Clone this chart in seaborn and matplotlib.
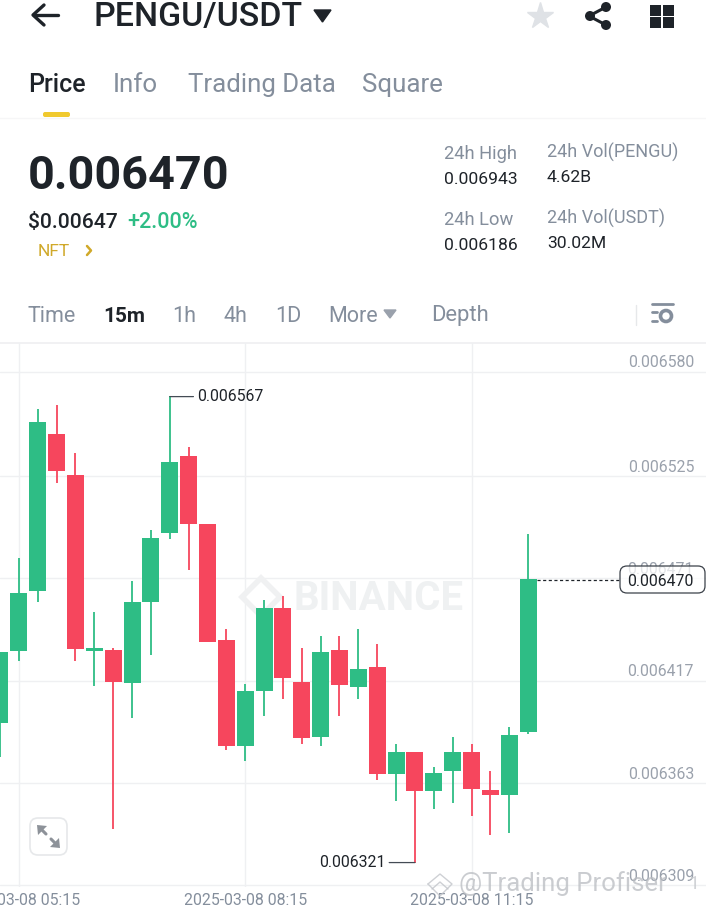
"""PENGU/USDT 15m candles, trading app screen."""
import matplotlib
matplotlib.use("Agg")
import matplotlib.pyplot as plt
import pandas as pd
import seaborn as sns
from matplotlib.patches import Circle, FancyBboxPatch, Polygon, Rectangle
from matplotlib.transforms import ScaledTranslation

# candle values, 15m bars, left to right
opens = [0.0063948, 0.0064327, 0.0064645, 0.0065474, 0.0065256, 0.0064325, 0.0064332, 0.0064156,
         0.0064587, 0.0064948, 0.0065355, 0.0064996, 0.0064385, 0.0063825, 0.0064117, 0.0064554,
         0.0064165, 0.0063874, 0.0064334, 0.0064137, 0.0064244, 0.0063676, 0.0063794, 0.0063586,
         0.0063695, 0.0063794, 0.0063593, 0.0063565, 0.0063898]
closes = [0.0064323, 0.0064635, 0.0065534, 0.0065276, 0.0064336, 0.0064343, 0.0064165, 0.0064584,
          0.0064924, 0.0065323, 0.0064997, 0.0064376, 0.0063825, 0.0064114, 0.0064554, 0.0064184,
          0.0063866, 0.0064323, 0.0064146, 0.0064233, 0.0063676, 0.0063794, 0.0063586, 0.0063683,
          0.0063794, 0.0063597, 0.0063565, 0.0063883, 0.0064705]
highs = [0.0064323, 0.0064818, 0.0065605, 0.0065624, 0.0065374, 0.0064534, 0.0064341, 0.0064695,
         0.0064966, 0.0065673, 0.0065406, 0.0064996, 0.0064443, 0.0064153, 0.0064596, 0.0064617,
         0.0064343, 0.0064404, 0.0064404, 0.0064443, 0.0064364, 0.0063834, 0.0063794, 0.0063714,
         0.0063873, 0.0063834, 0.0063695, 0.0063924, 0.0064945]
lows = [0.0063769, 0.0064276, 0.0064587, 0.0065215, 0.0064276, 0.0064144, 0.0063385, 0.0063975,
        0.0064306, 0.0064917, 0.0064755, 0.0064376, 0.0063806, 0.0063744, 0.0063984, 0.0064073,
        0.0063836, 0.0063825, 0.0063984, 0.0064075, 0.0063646, 0.0063535, 0.0063210, 0.0063494,
        0.0063524, 0.0063456, 0.0063355, 0.0063366, 0.0063891]

price_ticks = [0.006580, 0.006525, 0.006471, 0.006417, 0.006363, 0.006309]
time_ticks = [1, 13, 25]
time_labels = ["2025-03-08 05:15", "2025-03-08 08:15", "2025-03-08 11:15"]
max_price, min_price, last_price = 0.006567, 0.006321, 0.006470

GREEN = "#2ebd85"
RED = "#f6465d"
INK = "#1e2329"
GREY = "#848e9c"
LINE = "#eff0f2"
AXIS_SIZE = 11.4

sns.set_theme(style="white")
plt.rcParams["font.family"] = ["Roboto", "DejaVu Sans"]

df = pd.DataFrame({"pos": range(len(opens)), "open": opens, "close": closes, "high": highs, "low": lows})
df["bottom"] = df[["open", "close"]].min(axis=1)
df["body"] = (df["open"] - df["close"]).abs()
df["up"] = df["close"] >= df["open"]

fig = plt.figure(figsize=(7.06, 9.06), dpi=100, facecolor="white")
ax = fig.add_axes([0, (906 - 887) / 906, 1, (887 - 343) / 906])

for up, color in [(True, GREEN), (False, RED)]:
    sub = df[df["up"] == up]
    ax.vlines(sub["pos"], sub["low"], sub["high"], color=color, lw=1.3, zorder=3)
    sns.barplot(data=sub, x="pos", y="body", bottom=sub["bottom"].to_numpy(), native_scale=True,
                color=color, width=0.9, errorbar=None, saturation=1, linewidth=0, ax=ax, zorder=4)

ax.set_xlim(0, 706 / 18.86)
ax.set_ylim(0.0063081, 0.0065953)
ax.set_xlabel("")
ax.set_ylabel("")
ax.set_xticks(time_ticks, time_labels)
ax.set_yticks(price_ticks, [f"{p:.6f}" for p in price_ticks])
ax.grid(True, color=LINE, lw=1)
ax.set_axisbelow(True)
ax.tick_params(axis="x", length=0, pad=4, labelsize=AXIS_SIZE, labelcolor=GREY)
ax.tick_params(axis="y", length=0, left=False, labelleft=False, labelright=True, pad=-8.6,
               labelsize=AXIS_SIZE, labelcolor="#9aa1ac")
shift = ScaledTranslation(0, 9 / 100, fig.dpi_scale_trans)
for lab in ax.get_yticklabels():
    lab.set_ha("right")
    lab.set_va("center")
    lab.set_transform(lab.get_transform() + shift)
for name, spine in ax.spines.items():
    spine.set_visible(name == "top")
    spine.set_color(LINE)

# high / low / last markers
ax.annotate(f"{max_price:.6f}", xy=(9, max_price), xytext=(27, 0), textcoords="offset pixels", va="center",
            fontsize=AXIS_SIZE, color=INK, arrowprops=dict(arrowstyle="-", color="#444b55", lw=0.9, shrinkA=0, shrinkB=0))
ax.annotate(f"{min_price:.6f}", xy=(22, min_price), xytext=(-29, 0), textcoords="offset pixels", va="center",
            ha="right", fontsize=AXIS_SIZE, color=INK,
            arrowprops=dict(arrowstyle="-", color="#444b55", lw=0.9, shrinkA=0, shrinkB=0))
ax.hlines(last_price, 28.45, 32.9, color=INK, lw=0.9, ls=(0, (2.5, 2)), zorder=2)

# everything else on the screen sits on a pixel overlay
ui = fig.add_axes([0, 0, 1, 1], facecolor="none")
ui.set_xlim(0, 706)
ui.set_ylim(906, 0)
ui.axis("off")

# BINANCE watermark goes under the candles
ax.text(294, 599, "BINANCE", transform=ui.transData, fontsize=29, color="#eff1f2", fontweight="bold",
        va="center", zorder=1)
ax.add_patch(Polygon([(261, 578), (280, 597), (261, 616), (242, 597)], closed=True, fc="none", ec="#f0f1f2", lw=4,
                     transform=ui.transData, zorder=1))


def label(x, y, s, size=13.2, color=GREY, weight="normal", ha="left", **kw):
    ui.text(x, y + 1, s, fontsize=size, color=color, fontweight=weight, ha=ha, va="center", **kw)


# last price pill, the tick label behind it shows through
ui.add_patch(FancyBboxPatch((620, 566), 85, 27, boxstyle="round,pad=0,rounding_size=7", fc=(1, 1, 1, 0.72),
                            ec="#3b4149", lw=0.9, zorder=5))
label(694, 581, f"{last_price:.6f}", size=AXIS_SIZE, color=INK, ha="right", zorder=6)

# corner watermark
label(459, 883, "@Trading Profiser", size=18.5, color="#b9bcc1", alpha=0.75, zorder=6)
label(688, 883, "1", size=14, color="#c6c9cd", alpha=0.8, zorder=6)
ui.plot([428, 440, 452, 440, 428], [884, 874, 884, 896, 884], color="#c2c5ca", lw=1, alpha=0.8, zorder=6)
ui.plot([432, 440, 448], [889, 882, 889], color="#c2c5ca", lw=1, alpha=0.8, zorder=6)

# expand button
ui.add_patch(FancyBboxPatch((30, 818), 37, 37, boxstyle="round,pad=0,rounding_size=8", fc="white", ec="#e6e8ea", lw=1.2, zorder=5))
ui.add_patch(Polygon([(37, 825), (47, 826), (38, 835)], closed=True, fc="#8d9299", ec="none", zorder=6))
ui.add_patch(Polygon([(60, 848), (50, 847), (59, 838)], closed=True, fc="#8d9299", ec="none", zorder=6))
ui.plot([40, 46], [828, 834], color="#8d9299", lw=2.2, zorder=6)
ui.plot([57, 51], [845, 839], color="#8d9299", lw=2.2, zorder=6)

# top bar
ui.plot([34, 58], [15, 15], color=INK, lw=2.4)
ui.plot([44, 33, 44], [5, 15, 25], color=INK, lw=2.4)
label(93, 16, "PENGU/USDT", size=24.4, color=INK, weight="medium")
ui.add_patch(Polygon([(314, 10), (331, 10), (322.5, 22)], closed=True, fc=INK, ec=INK))
ui.plot([540], [16], marker="*", ms=20, color="#dfe2e6", mec="#dfe2e6")
for a, b in [((589, 16), (606, 7)), ((589, 16), (606, 25))]:
    ui.plot(*zip(a, b), color=INK, lw=2.2)
for xy, r in [((590, 16), 5), ((606, 7), 5), ((606, 25), 5)]:
    ui.add_patch(Circle(xy, r, fc=INK, ec="none"))
for x, y in [(650, 5), (663, 5), (650, 17), (663, 17)]:
    ui.add_patch(Rectangle((x, y), 10.5, 10.5, fc=INK, ec="none"))

# tabs
label(28, 84, "Price", size=18, color=INK, weight="medium")
label(113, 84, "Info", size=18.6)
label(188, 84, "Trading Data", size=18.6)
label(362, 84, "Square", size=18.6)
ui.add_patch(FancyBboxPatch((43, 112), 27, 5, boxstyle="round,pad=0,rounding_size=2", fc="#f0c92e", ec="none"))
ui.plot([0, 706], [118, 118], color="#f6f6f7", lw=1)

# price block
label(28, 175, "0.006470", size=33.7, color=INK, weight="bold")
label(28, 221, "$0.00647", size=15.2, color=INK, weight="medium")
label(127, 221, "+2.00%", size=15.5, color=GREEN, weight="medium")
label(38, 250, "NFT", size=12.5, color="#d0a92a")
ui.plot([87, 91, 87], [246, 250.5, 255], color="#d0a92a", lw=1.8)

label(444, 153, "24h High", size=13.2)
label(444, 178, "0.006943", size=12.6, color=INK)
label(547, 151, "24h Vol(PENGU)", size=13)
label(547, 176, "4.62B", size=12.6, color=INK)
label(444, 219, "24h Low", size=13.2)
label(444, 244, "0.006186", size=12.6, color=INK)
label(547, 217, "24h Vol(USDT)", size=13)
label(547, 243, "30.02M", size=12.6, color=INK)

# interval row
label(27, 315, "Time", size=15.5)
label(103, 315, "15m", size=15, color=INK, weight="bold")
label(172, 315, "1h", size=15.5)
label(223, 315, "4h", size=15.5)
label(275, 315, "1D", size=15.5)
label(328, 315, "More", size=15.5)
ui.add_patch(Polygon([(384, 310), (396, 310), (390, 318)], closed=True, fc="#9aa1ac", ec="#9aa1ac"))
label(431, 315, "Depth", size=15.8)
ui.plot([636, 636], [305, 325], color="#e6e8ea", lw=1)
ui.plot([652, 673], [304, 304], color=GREY, lw=2)
ui.plot([652, 657], [312, 312], color=GREY, lw=2)
ui.plot([652, 657], [321, 321], color=GREY, lw=2)
ui.add_patch(Circle((666, 316), 5.5, fc="white", ec=GREY, lw=2.6))

fig.savefig("out.png", dpi=100, facecolor="white")
